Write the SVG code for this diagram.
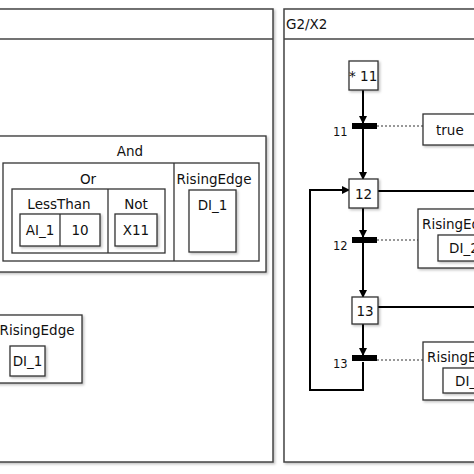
<svg xmlns="http://www.w3.org/2000/svg" width="474" height="474" viewBox="0 0 474 474">
<defs>
<filter id="sh" x="-10%" y="-10%" width="130%" height="130%">
<feDropShadow dx="1.5" dy="1.5" stdDeviation="1" flood-color="#000" flood-opacity="0.25"/>
</filter>
<marker id="arr" markerWidth="8" markerHeight="8" refX="7" refY="4" orient="auto" markerUnits="userSpaceOnUse">
<path d="M0,0 L8,4 L0,8 Z" fill="#000"/>
</marker>
</defs>
<style>
text{font-family:"DejaVu Sans","Liberation Sans",sans-serif;font-size:13.5px;fill:#111}
.c{text-anchor:middle}
.sm{font-size:11.5px}
.panel{fill:#fff;stroke:#444;stroke-width:1.5}
.box{fill:#fff;stroke:#333;stroke-width:1.3}
.flow{fill:none;stroke:#000;stroke-width:2}
.dot{fill:none;stroke:#777;stroke-width:1.5;stroke-dasharray:2,2}
.bar{fill:#000}
</style>
<rect width="474" height="474" fill="#fff"/>

<g id="panel-left">
<rect class="panel" x="-10" y="9" width="283" height="453" filter="url(#sh)"/>
<line x1="-10" y1="39" x2="273" y2="39" stroke="#444" stroke-width="1.5"/>
</g>
<g id="panel-right">
<rect class="panel" x="284" y="9" width="200" height="453" filter="url(#sh)"/>
<line x1="284" y1="39" x2="484" y2="39" stroke="#444" stroke-width="1.5"/>
<text x="286" y="29">G2/X2</text>
</g>

<g id="and">
<rect class="box" x="-10" y="136" width="276" height="136" filter="url(#sh)"/>
<text class="c" x="130" y="156">And</text>
<rect class="box" x="3" y="163" width="256" height="98"/>
<line x1="174" y1="163" x2="174" y2="261" stroke="#333" stroke-width="1.3"/>
</g>
<g id="or">
<text class="c" x="88" y="184">Or</text>
<rect class="box" x="12" y="189" width="153" height="64"/>
<line x1="108" y1="189" x2="108" y2="253" stroke="#333" stroke-width="1.3"/>
</g>
<g id="lessthan">
<text class="c" x="59" y="209">LessThan</text>
<rect class="box" x="20" y="214" width="80" height="32" filter="url(#sh)"/>
<line x1="60" y1="214" x2="60" y2="246" stroke="#333" stroke-width="1.3"/>
<text class="c" x="40" y="235">AI_1</text>
<text class="c" x="80" y="235">10</text>
</g>
<g id="not">
<text class="c" x="136" y="209">Not</text>
<rect class="box" x="115" y="214" width="42" height="32" filter="url(#sh)"/>
<text class="c" x="136" y="235">X11</text>
</g>
<g id="risingedge-and">
<text class="c" x="214" y="184">RisingEdge</text>
<rect class="box" x="189" y="190" width="47" height="62" filter="url(#sh)"/>
<text class="c" x="212.5" y="210">DI_1</text>
</g>

<g id="risingedge-left">
<rect class="box" x="-10" y="315" width="92" height="68" filter="url(#sh)"/>
<text class="c" x="37" y="335">RisingEdge</text>
<rect class="box" x="10" y="346" width="35" height="30" filter="url(#sh)"/>
<text class="c" x="27.5" y="366">DI_1</text>
</g>

<g id="connectors">
<line class="flow" x1="363" y1="90" x2="363" y2="123" marker-end="url(#arr)"/>
<line class="flow" x1="363" y1="129" x2="363" y2="179" marker-end="url(#arr)"/>
<line class="flow" x1="363" y1="208" x2="363" y2="237" marker-end="url(#arr)"/>
<line class="flow" x1="363" y1="242" x2="363" y2="297" marker-end="url(#arr)"/>
<line class="flow" x1="363" y1="324" x2="363" y2="355" marker-end="url(#arr)"/>
<polyline class="flow" points="363,362 363,390 310,390 310,190 349,190" marker-end="url(#arr)"/>
<line class="flow" x1="378" y1="191" x2="480" y2="191"/>
<line class="flow" x1="378" y1="307" x2="480" y2="307"/>
<line class="dot" x1="377" y1="126" x2="423" y2="126"/>
<line class="dot" x1="377" y1="240" x2="418" y2="240"/>
<line class="dot" x1="377" y1="360" x2="423" y2="360"/>
</g>

<g id="step11">
<rect class="box" x="349" y="61" width="29" height="29" filter="url(#sh)"/>
<text x="349" y="81">* 11</text>
</g>
<g id="t11">
<rect class="bar" x="352" y="123" width="25" height="6"/>
<text class="sm" x="333" y="136">11</text>
</g>
<g id="cond-true">
<rect class="box" x="423" y="114" width="70" height="31" filter="url(#sh)"/>
<text x="436" y="135">true</text>
</g>

<g id="step12">
<rect class="box" x="349" y="179" width="29" height="29" filter="url(#sh)"/>
<text class="c" x="363.5" y="199">12</text>
</g>
<g id="t12">
<rect class="bar" x="352" y="237" width="25" height="6"/>
<text class="sm" x="333" y="250">12</text>
</g>
<g id="cond-12">
<rect class="box" x="418" y="209" width="70" height="59" filter="url(#sh)"/>
<text x="422" y="229">RisingEdge</text>
<rect class="box" x="438" y="235" width="50" height="26" filter="url(#sh)"/>
<text x="449" y="253">DI_2</text>
</g>

<g id="step13">
<rect class="box" x="352" y="297" width="26" height="27" filter="url(#sh)"/>
<text class="c" x="365" y="316">13</text>
</g>
<g id="t13">
<rect class="bar" x="352" y="355" width="25" height="6"/>
<text class="sm" x="333" y="368">13</text>
</g>
<g id="cond-13">
<rect class="box" x="423" y="342" width="70" height="58" filter="url(#sh)"/>
<text x="427" y="362">RisingEdge</text>
<rect class="box" x="443" y="368" width="50" height="25" filter="url(#sh)"/>
<text x="455" y="386">DI_2</text>
</g>
</svg>
